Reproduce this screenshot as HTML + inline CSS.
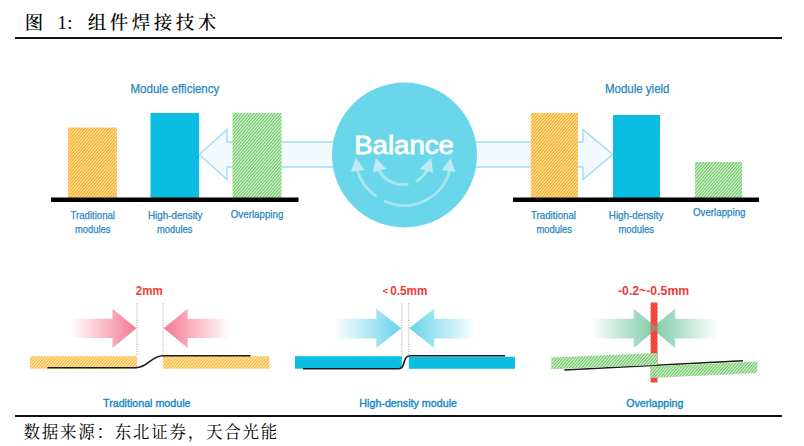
<!DOCTYPE html>
<html lang="zh-CN">
<head>
<meta charset="utf-8">
<title>图 1: 组件焊接技术</title>
<style>
  html,body{margin:0;padding:0;background:#fff;}
  body{width:804px;height:446px;position:relative;overflow:hidden;font-family:"Liberation Sans","Noto Sans CJK SC",sans-serif;}
  .cap{position:absolute;white-space:nowrap;color:#000;font-family:"Liberation Serif","Noto Serif CJK SC",serif;}
  .t{top:9px;font-size:18.5px;line-height:28px;letter-spacing:3.5px;font-weight:500;}
  .s{top:419.5px;left:23.5px;font-size:16.5px;line-height:26px;letter-spacing:1.75px;}
  .rule{position:absolute;left:14.5px;width:767.5px;height:2px;background:#111;}
  svg{position:absolute;left:0;top:0;}
  svg text{font-family:"Liberation Sans",sans-serif;}
</style>
</head>
<body>
<div class="cap t" style="left:24.8px">图</div>
<div class="cap t" style="left:57.5px;letter-spacing:0.5px">1:</div>
<div class="cap t" style="left:87.8px">组件焊接技术</div>
<div class="rule" style="top:36.7px"></div>
<div class="rule" style="top:414.7px"></div>
<div class="cap s">数据来源：东北证券，天合光能</div>

<svg width="804" height="446" viewBox="0 0 804 446">
  <defs>
    <pattern id="hO" width="6" height="7" patternUnits="userSpaceOnUse">
      <rect width="6" height="7" fill="#FFE8A8"/>
      <path d="M-1.2 1.4 L1.2 -1.4 M-1.2 4.9 L4.2 -1.4 M-1.2 8.4 L7.2 -1.4 M1.8 8.4 L7.2 2.1 M4.8 8.4 L7.2 5.6" stroke="#FBAB2A" stroke-width="1.15" fill="none"/>
    </pattern>
    <pattern id="hG" width="6" height="7" patternUnits="userSpaceOnUse">
      <rect width="6" height="7" fill="#D8F0D1"/>
      <path d="M-1.2 1.4 L1.2 -1.4 M-1.2 4.9 L4.2 -1.4 M-1.2 8.4 L7.2 -1.4 M1.8 8.4 L7.2 2.1 M4.8 8.4 L7.2 5.6" stroke="#66C860" stroke-width="1.1" fill="none"/>
    </pattern>
    <pattern id="hR" width="6" height="7" patternUnits="userSpaceOnUse">
      <rect width="6" height="7" fill="#F5665F"/>
      <path d="M-1.2 1.4 L1.2 -1.4 M-1.2 4.9 L4.2 -1.4 M-1.2 8.4 L7.2 -1.4 M1.8 8.4 L7.2 2.1 M4.8 8.4 L7.2 5.6" stroke="#EE2E27" stroke-width="1.2" fill="none"/>
    </pattern>
    <pattern id="hG2" width="6" height="7" patternUnits="userSpaceOnUse">
      <rect width="6" height="7" fill="#D8F0D1"/>
      <path d="M-1.2 1.4 L1.2 -1.4 M-1.2 4.9 L4.2 -1.4 M-1.2 8.4 L7.2 -1.4 M1.8 8.4 L7.2 2.1 M4.8 8.4 L7.2 5.6" stroke="#66C860" stroke-width="1.1" fill="none"/>
    </pattern>
    <pattern id="hO2" width="6" height="7" patternUnits="userSpaceOnUse">
      <rect width="6" height="7" fill="#FFEAB0"/>
      <path d="M-1.2 1.4 L1.2 -1.4 M-1.2 4.9 L4.2 -1.4 M-1.2 8.4 L7.2 -1.4 M1.8 8.4 L7.2 2.1 M4.8 8.4 L7.2 5.6" stroke="#FBAD2E" stroke-width="1.05" fill="none"/>
    </pattern>
    <linearGradient id="gP" x1="0" x2="1" y1="0" y2="0">
      <stop offset="0" stop-color="#F4708A" stop-opacity="0"/><stop offset="1" stop-color="#F26E88" stop-opacity="0.93"/>
    </linearGradient>
    <linearGradient id="gC" x1="0" x2="1" y1="0" y2="0">
      <stop offset="0" stop-color="#5BCFE8" stop-opacity="0"/><stop offset="1" stop-color="#5BCFE8" stop-opacity="0.93"/>
    </linearGradient>
    <linearGradient id="gG" x1="0" x2="1" y1="0" y2="0">
      <stop offset="0" stop-color="#5CBE93" stop-opacity="0"/><stop offset="1" stop-color="#62C096" stop-opacity="0.85"/>
    </linearGradient>
    <!-- arrow pointing right: tail x=0, head base x=h, tip x=L ; defined per use -->
  </defs>

  <!-- ============ TOP: big light arrows ============ -->
  <g fill="#F3FAFE" stroke="#9ADEF3" stroke-width="1.4" stroke-linejoin="miter">
    <path d="M340 142 H227 V129.5 L199.3 154.5 L227 179.5 V167 H340 Z"/>
    <path d="M470 142 H583 V129.5 L612.7 154.5 L583 179.5 V167 H470 Z"/>
  </g>

  <!-- left chart -->
  <rect x="68" y="127.5" width="49" height="71" fill="url(#hO)"/>
  <rect x="150.5" y="113" width="48.5" height="85.5" fill="#0BBDE0"/>
  <rect x="232.5" y="113" width="49" height="85.5" fill="url(#hG)"/>
  <rect x="51" y="197.5" width="247.5" height="4.5" fill="#000"/>

  <!-- right chart -->
  <rect x="530.8" y="113" width="47.2" height="85.5" fill="url(#hO)"/>
  <rect x="613" y="115" width="47" height="83" fill="#0BBDE0"/>
  <rect x="695" y="162" width="47" height="36" fill="url(#hG)"/>
  <rect x="513" y="197.5" width="246" height="4.5" fill="#000"/>

  <!-- circle -->
  <circle cx="404.5" cy="155" r="72.5" fill="#6AD6EA"/>
  <text x="354.2" y="153.5" font-size="26.5" fill="#fff" stroke="#fff" stroke-width="0.8" textLength="99.7" lengthAdjust="spacingAndGlyphs">Balance</text>
  <g fill="none" stroke="#ABE5F2" stroke-width="2.8" stroke-linecap="round">
    <!-- outer arc r=47 center (403.5,158) -->
    <path d="M357.2 170 A47 47 0 0 0 375.8 195.8"/>
    <path d="M385 201.3 A47 47 0 0 0 449.8 170"/>
    <!-- inner arc r=26.5 -->
    <path d="M379 170 A26.5 26.5 0 0 0 407.5 184.2"/>
    <path d="M417 180.8 A26.5 26.5 0 0 0 427 170.5"/>
  </g>
  <g fill="#BDEAF6">
    <path d="M355.8 158 L350.8 171.7 L364.7 170 Z"/>
    <path d="M375.8 158 L372.8 172.5 L386.3 168.7 Z"/>
    <path d="M431.3 158 L420 168.7 L433 172.8 Z"/>
    <path d="M450.8 158 L441.7 170 L455.3 172 Z"/>
  </g>

  <!-- top labels -->
  <g fill="#2887BB" stroke="#2887BB" stroke-width="0.25" font-size="12">
    <text x="130.5" y="93" textLength="88.8" lengthAdjust="spacingAndGlyphs">Module efficiency</text>
    <text x="605" y="93" textLength="64.5" lengthAdjust="spacingAndGlyphs">Module yield</text>
  </g>
  <g fill="#2887BB" stroke="#2887BB" stroke-width="0.25" font-size="10.5">
    <text x="70.5" y="218.5" textLength="44.5" lengthAdjust="spacingAndGlyphs">Traditional</text>
    <text x="75" y="232.5" textLength="35.5" lengthAdjust="spacingAndGlyphs">modules</text>
    <text x="148" y="218.5" textLength="54.5" lengthAdjust="spacingAndGlyphs">High-density</text>
    <text x="157" y="232.5" textLength="35.5" lengthAdjust="spacingAndGlyphs">modules</text>
    <text x="230.8" y="218.3" textLength="52.5" lengthAdjust="spacingAndGlyphs">Overlapping</text>
    <text x="531" y="218.5" textLength="45" lengthAdjust="spacingAndGlyphs">Traditional</text>
    <text x="536.5" y="232.5" textLength="35.5" lengthAdjust="spacingAndGlyphs">modules</text>
    <text x="608.8" y="218.5" textLength="54.5" lengthAdjust="spacingAndGlyphs">High-density</text>
    <text x="618.5" y="232.5" textLength="35.5" lengthAdjust="spacingAndGlyphs">modules</text>
    <text x="693" y="215.5" textLength="52.5" lengthAdjust="spacingAndGlyphs">Overlapping</text>
  </g>

  <!-- ============ BOTTOM ROW ============ -->
  <!-- 1. Traditional -->
  <g>
    <path d="M70 318.8 H112.5 V308.8 L136.5 328.3 L112.5 348 V338 H70 Z" fill="url(#gP)"/>
    <path d="M70 318.8 H112.5 V308.8 L136.5 328.3 L112.5 348 V338 H70 Z" fill="url(#gP)" transform="translate(300.2 0) scale(-1 1)"/>
    <g stroke="#a8a8a8" stroke-width="0.9" stroke-dasharray="1.2 1.2">
      <line x1="136.9" y1="303" x2="136.9" y2="356"/>
      <line x1="163" y1="303" x2="163" y2="356"/>
    </g>
    <rect x="30" y="356.2" width="107" height="12.5" fill="url(#hO2)"/>
    <rect x="163" y="356.2" width="106.5" height="12.5" fill="url(#hO2)"/>
    <path d="M47.5 367.7 H136 C148 367.7 151 355.7 163 355.7 H250.5" fill="none" stroke="#1a1a1a" stroke-width="1.6"/>
    <text x="135.8" y="295" font-size="12.5" font-weight="bold" fill="#EF3B36" textLength="26.8" lengthAdjust="spacingAndGlyphs">2mm</text>
    <text x="103" y="406.8" font-size="11.5" fill="#1789C4" stroke="#1789C4" stroke-width="0.4" textLength="87.5" lengthAdjust="spacingAndGlyphs">Traditional module</text>
  </g>

  <!-- 2. High density -->
  <g>
    <path d="M333.8 318.8 H376.3 V308.8 L401.3 328.3 L376.3 348 V338.6 H333.8 Z" fill="url(#gC)"/>
    <path d="M333.8 318.8 H376.3 V308.8 L401.3 328.3 L376.3 348 V338.6 H333.8 Z" fill="url(#gC)" transform="translate(810.5 0) scale(-1 1)"/>
    <g stroke="#a8a8a8" stroke-width="0.9" stroke-dasharray="1.2 1.2">
      <line x1="401.8" y1="303" x2="401.8" y2="356"/>
      <line x1="408.8" y1="303" x2="408.8" y2="356"/>
    </g>
    <rect x="295" y="356.2" width="106.8" height="12.5" fill="#0BBDE0"/>
    <rect x="408.8" y="356.8" width="106.2" height="12" fill="#0BBDE0"/>
    <path d="M303 368.7 H399 C406 368.7 402 355.7 410 355.7 H505" fill="none" stroke="#1a1a1a" stroke-width="1.6"/>
    <text x="382.8" y="295" font-size="12.5" font-weight="bold" fill="#EF3B36"><tspan font-size="9.5" dy="-0.6">&lt; </tspan><tspan x="390.2" dy="0.6" textLength="37.3" lengthAdjust="spacingAndGlyphs">0.5mm</tspan></text>
    <text x="359.3" y="406.8" font-size="11.5" fill="#1789C4" stroke="#1789C4" stroke-width="0.4" textLength="97.7" lengthAdjust="spacingAndGlyphs">High-density module</text>
  </g>

  <!-- 3. Overlapping -->
  <g>
    <clipPath id="cR"><rect x="650.6" y="302.5" width="6.9" height="80"/></clipPath>
    <path id="aG1" d="M591.3 318.8 H633.8 V308.8 L657.5 328.3 L633.8 348 V338.5 H591.3 Z" fill="url(#gG)"/>
    <path id="aG2" d="M591.3 318.8 H633.8 V308.8 L657.5 328.3 L633.8 348 V338.5 H591.3 Z" fill="url(#gG)" transform="translate(1309 0) scale(-1 1)"/>
    <rect x="650.6" y="302.5" width="6.9" height="80" fill="url(#hR)"/>
    <g clip-path="url(#cR)" opacity="0.5"><use href="#aG1"/><use href="#aG2"/></g>
    <path d="M564.3 370 L743 360.8" fill="none" stroke="#1a1a1a" stroke-width="1.4"/>
    <path d="M551.3 357.5 L657.5 353 V365 L551.3 369.3 Z" fill="url(#hG2)"/>
    <path d="M650.6 366.3 L757.3 361.5 V373 L650.6 378 Z" fill="url(#hG2)"/>
    <text x="618" y="295" font-size="12.5" font-weight="bold" fill="#EF3B36" textLength="71.2" lengthAdjust="spacingAndGlyphs">-0.2~-0.5mm</text>
    <text x="626.3" y="406.8" font-size="11.5" fill="#1789C4" stroke="#1789C4" stroke-width="0.4" textLength="57" lengthAdjust="spacingAndGlyphs">Overlapping</text>
  </g>
</svg>
</body>
</html>
